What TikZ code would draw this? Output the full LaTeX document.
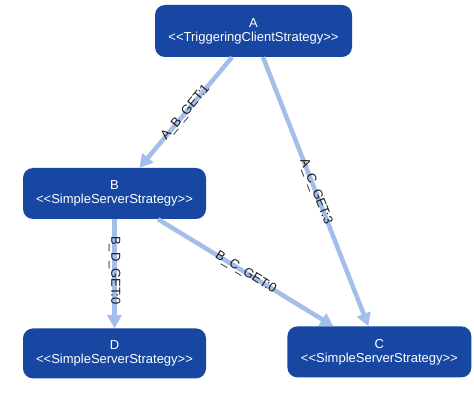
\documentclass[tikz,border=0pt]{standalone}
\usepackage{fontspec}
\newfontfamily\diagfont{Liberation Sans}[Ligatures=TeXOff]
\usetikzlibrary{arrows.meta,positioning}
\definecolor{boxblue}{HTML}{1747A2}
\definecolor{edgeblue}{HTML}{A3BEEA}
\definecolor{labelgray}{HTML}{1C1C1C}

\begin{document}
\begin{tikzpicture}[x=1pt,y=-1pt,>={Triangle[width=14pt,length=13pt]},
                    font=\diagfont]
  \tikzstyle{strategy}=[fill=boxblue,draw=none,text=white,rounded corners=10pt,
                        align=center,minimum width=183pt,minimum height=51pt,
                        inner sep=0pt,font=\diagfont\fontsize{13}{14}\selectfont]
  \tikzstyle{call}=[->,draw=edgeblue,line width=4.5pt]
  \tikzstyle{call label}=[midway,sloped,anchor=center,text=labelgray,inner sep=0pt,
                          font=\diagfont\fontsize{13}{14}\selectfont]

  \fill[white] (0,0) rectangle (474,406);
  \useasboundingbox (0,0) rectangle (474,406);

  \node[strategy,minimum width=197pt,minimum height=52pt] (A) at (253.5,31)
       {A\\<<TriggeringClientStrategy>>};
  \node[strategy] (B) at (114.5,193.5) {B\\<<SimpleServerStrategy>>};
  \node[strategy,minimum height=50pt] (D) [below=109pt of B] {D\\<<SimpleServerStrategy>>};
  \node[strategy,minimum width=184pt] (C) [right=81pt of D,yshift=1.5pt] {C\\<<SimpleServerStrategy>>};

  \path ([xshift=-21.5pt]A.south) edge[call] node[call label] {A\_B\_GET:1} ([xshift=25pt]B.north)
        ([xshift=9.5pt]A.south)   edge[call] node[call label] {A\_C\_GET:3} ([xshift=-11pt]C.north)
        (B.south)                 edge[call] node[call label,sloped=false,rotate=-90,pos=0.47] {B\_D\_GET:0} (D.north)
        ([xshift=43.5pt]B.south)  edge[call] node[call label] {B\_C\_GET:0} ([xshift=-46pt]C.north);
\end{tikzpicture}
\end{document}
